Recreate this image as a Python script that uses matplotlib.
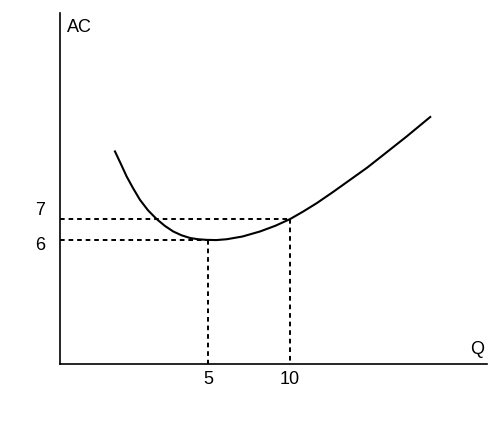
import matplotlib.pyplot as plt

plt.rcParams['font.family'] = ['Liberation Sans', 'DejaVu Sans']

q = [-0.67, -0.32, 0.04, 0.44, 0.85, 1.34, 1.87, 2.38, 2.88, 3.38, 3.90, 4.39,
     4.92, 5.5, 6.14, 7.1, 8.17, 9.1, 10.0, 10.8, 11.63, 12.6, 13.66, 14.7,
     15.69, 17.1, 18.54]
ac = [10.22, 9.64, 9.03, 8.46, 7.92, 7.42, 7.00, 6.67, 6.41, 6.23, 6.10, 6.04,
      6.01, 6.0, 6.04, 6.17, 6.41, 6.68, 7.00, 7.36, 7.76, 8.28, 8.87, 9.45,
      10.06, 10.93, 11.86]

q_marks = [5, 10]
ac_marks = [6, 7]

fig = plt.figure(figsize=(5, 4.24), dpi=100)
ax = fig.add_axes([0.12, 0.1415, 0.854, 0.8278])
ax.set_xlim(-4.02, 22.0)
ax.set_ylim(0.1, 16.81)

ax.plot(q, ac, color='black', lw=1.5, solid_joinstyle='round')

# líneas discontinuas de referencia
for qm, am in zip(q_marks, ac_marks):
    ax.plot([-4.02, qm], [am, am], color='black', lw=1.4, dashes=(2.4, 2.0))
    ax.plot([qm, qm], [am, 0.1], color='black', lw=1.4, dashes=(2.4, 2.0))

for s in ['top', 'right']:
    ax.spines[s].set_visible(False)
for s in ['left', 'bottom']:
    ax.spines[s].set_linewidth(1.2)
ax.set_xticks([])
ax.set_yticks([])

for qm in q_marks:
    ax.annotate(str(qm), (qm, 0.1), xytext=(0, -11), textcoords='offset points',
                ha='center', va='center', fontsize=13)
ax.annotate(str(ac_marks[1]), (-4.02, ac_marks[1]), xytext=(-14, 6), textcoords='offset points',
            ha='center', va='center', fontsize=13)
ax.annotate(str(ac_marks[0]), (-4.02, ac_marks[0]), xytext=(-14, -4), textcoords='offset points',
            ha='center', va='center', fontsize=13)

fig.text(67 / 500, 1 - 27 / 424, 'AC', ha='left', va='center', fontsize=13)
fig.text(477 / 500, 1 - 350 / 424, 'Q', ha='center', va='center', fontsize=13)

fig.savefig('out.png', dpi=100)
